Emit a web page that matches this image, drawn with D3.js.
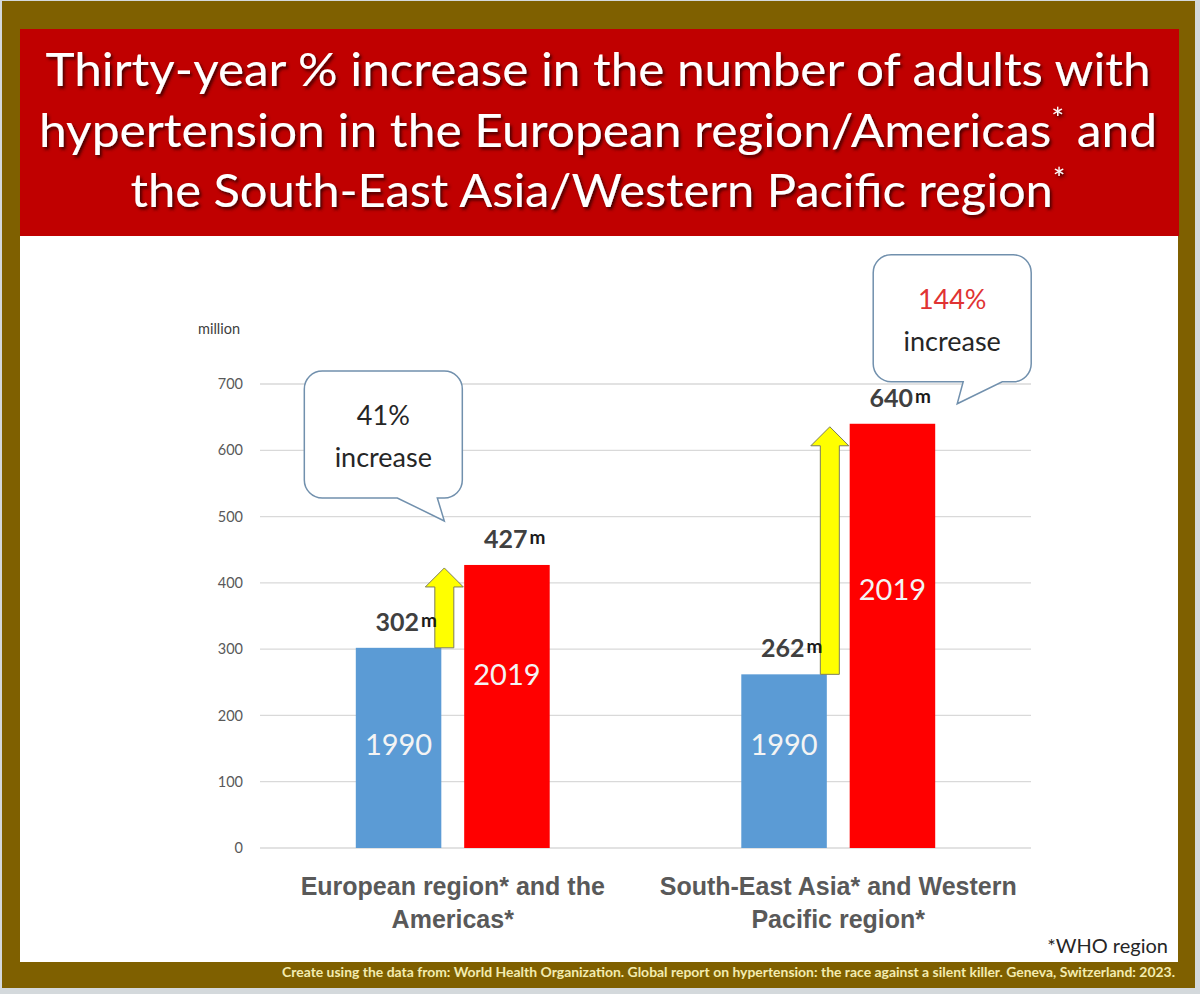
<!DOCTYPE html>
<html>
<head>
<meta charset="utf-8">
<script src="https://cdn.jsdelivr.net/npm/d3@7"></script>
<style>
  body { margin: 0; background: #fff; }
  svg { display: block; }
</style>
</head>
<body>
<svg id="canvas" width="1200" height="994"></svg>
<script>
const width = 1200
const height = 994

// data
const regions = ["European region* and the Americas*", "South-East Asia* and Western Pacific region*"]
const regionLines = [["European region* and the", "Americas*"], ["South-East Asia* and Western", "Pacific region*"]]
const years = ["1990", "2019"]
const values1990 = [302, 262]
const values2019 = [427, 640]
const increaseLabels = ["41%", "144%"]
const yTicks = [0, 100, 200, 300, 400, 500, 600, 700]

const titleLines = [
    ["Thirty-year % increase in the number of adults with", ""],
    ["hypertension in the European region/Americas", "*", " and"],
    ["the South-East Asia/Western Pacific region", "*"]
]
const sourceText = "Create using the data from: World Health Organization. Global report on hypertension: the race against a silent killer. Geneva, Switzerland: 2023."

const svg = d3.select("#canvas")

// shadow for the title
const defs = svg.append("defs")
defs.append("filter").attr("id", "shadow")
    .attr("x", "-5%").attr("y", "-20%").attr("width", "110%").attr("height", "140%")
    .append("feDropShadow")
    .attr("dx", 2).attr("dy", 2.5).attr("stdDeviation", 1.6)
    .attr("flood-color", "#300000").attr("flood-opacity", 0.85)

// frame
svg.append("rect").attr("width", width).attr("height", height).attr("fill", "#d4d9dc")
svg.append("rect").attr("x", 2).attr("y", 1).attr("width", 1193).attr("height", 987).attr("fill", "#7f6000")
svg.append("rect").attr("x", 20).attr("y", 29).attr("width", 1159).attr("height", 207).attr("fill", "#c00000")
svg.append("rect").attr("x", 20).attr("y", 236).attr("width", 1158).attr("height", 726).attr("fill", "#ffffff")

// title
const titleG = svg.append("g").attr("filter", "url(#shadow)")
const titleWidths = [1105, 1118, 935]
titleLines.forEach((parts, i) => {
    const t = titleG.append("text")
        .attr("x", 598)
        .attr("y", 86 + i * 60.5)
        .attr("text-anchor", "middle")
        .attr("font-family", "Lato, 'Open Sans', sans-serif")
        .attr("font-size", 46)
        .attr("fill", "#ffffff")
        .attr("textLength", titleWidths[i])
        .attr("lengthAdjust", "spacingAndGlyphs")
    t.append("tspan").text(parts[0])
    if (parts[1]) {
        t.append("tspan").attr("font-size", 28).attr("dy", -18).text(parts[1])
        if (parts[2]) t.append("tspan").attr("dy", 18).text(parts[2])
    }
})

// scales
const x0 = d3.scaleBand()
    .domain(regions)
    .range([260, 1031])
    .paddingInner(0.497)
    .paddingOuter(0.2485)

const x1 = d3.scaleBand()
    .domain(years)
    .range([0, x0.bandwidth()])
    .paddingInner(0.211)

const y = d3.scaleLinear()
    .domain([0, 700])
    .range([848, 384])

// gridlines + y axis labels
const yAxis = d3.axisLeft(y).tickValues(yTicks).tickSize(0).tickPadding(17)
const yAxisG = svg.append("g").attr("transform", "translate(260,0)").call(yAxis)
yAxisG.select(".domain").remove()
yAxisG.selectAll("text")
    .attr("font-family", "Lato, sans-serif")
    .attr("font-size", 14.5)
    .attr("fill", "#595959")

svg.append("g").selectAll("line")
    .data(yTicks)
    .enter().append("line")
    .attr("x1", 260)
    .attr("x2", 1031)
    .attr("y1", d => y(d))
    .attr("y2", d => y(d))
    .attr("stroke", "#d9d9d9")
    .attr("stroke-width", 1.3)

svg.append("text")
    .attr("x", 198)
    .attr("y", 334)
    .attr("font-family", "Lato, sans-serif")
    .attr("font-size", 14.5)
    .attr("fill", "#404040")
    .text("million")

// bars
const bars = regions.map((r, i) => ({
    region: r,
    v1990: values1990[i],
    v2019: values2019[i],
    bx: x0(r) + x1("1990"),
    rx: x0(r) + x1("2019")
}))
const bw = x1.bandwidth()

const barG = svg.append("g")
barG.selectAll(".b1990")
    .data(bars)
    .enter().append("rect")
    .attr("x", d => d.bx)
    .attr("y", d => y(d.v1990))
    .attr("width", bw)
    .attr("height", d => y(0) - y(d.v1990))
    .attr("fill", "#5b9bd5")

barG.selectAll(".b2019")
    .data(bars)
    .enter().append("rect")
    .attr("x", d => d.rx)
    .attr("y", d => y(d.v2019))
    .attr("width", bw)
    .attr("height", d => y(0) - y(d.v2019))
    .attr("fill", "#ff0000")

// yellow arrows from the 1990 level up to the 2019 level
function arrowPath(cx, top, bottom) {
    const s = 9.5, h = 19, head = 19
    return `M${cx - s},${bottom} V${top + head} H${cx - h} L${cx},${top} L${cx + h},${top + head} H${cx + s} V${bottom} Z`
}
svg.append("g").selectAll("path")
    .data(bars)
    .enter().append("path")
    .attr("d", d => arrowPath(d.bx + bw + 3, y(d.v2019) + 3, y(d.v1990)))
    .attr("fill", "#ffff00")
    .attr("stroke", "#7d7d5a")
    .attr("stroke-width", 1)

// year labels inside the bars
const yearLabelFont = "Lato, 'Open Sans', sans-serif"
barG.selectAll(".l1990")
    .data(bars)
    .enter().append("text")
    .attr("x", d => d.bx + bw / 2)
    .attr("y", y(140))
    .attr("text-anchor", "middle")
    .attr("font-family", yearLabelFont)
    .attr("font-size", 29)
    .attr("fill", "#f4f4f4")
    .text("1990")

barG.selectAll(".l2019")
    .data(bars)
    .enter().append("text")
    .attr("x", d => d.rx + bw / 2)
    .attr("y", d => y(d.v2019 * 0.6 - 10))
    .attr("text-anchor", "middle")
    .attr("font-family", yearLabelFont)
    .attr("font-size", 29)
    .attr("fill", "#f4f4f4")
    .text("2019")

// value labels above bars
function valueLabel(cx, v) {
    const t = svg.append("text")
        .attr("x", cx - 23)
        .attr("y", y(v) - 17)
        .attr("font-family", "Lato, sans-serif")
        .attr("font-weight", "bold")
    t.append("tspan").attr("font-size", 25).attr("fill", "#404040").text(v)
    t.append("tspan").attr("font-size", 19).attr("fill", "#1a1a1a").attr("dx", 2).attr("dy", -4).text("m")
}
bars.forEach(d => {
    valueLabel(d.bx + bw / 2, d.v1990)
    valueLabel(d.rx + bw / 2, d.v2019)
})

// speech bubbles
function calloutPath(x, yTop, w, h, r, baseL, baseR, tipX, tipY) {
    const xr = x + w, yb = yTop + h
    return `M${x + r},${yTop} H${xr - r} A${r},${r} 0 0 1 ${xr},${yTop + r} V${yb - r} A${r},${r} 0 0 1 ${xr - r},${yb}` +
        ` H${baseR} L${tipX},${tipY} L${baseL},${yb} H${x + r} A${r},${r} 0 0 1 ${x},${yb - r} V${yTop + r} A${r},${r} 0 0 1 ${x + r},${yTop} Z`
}
const cw = 158, ch = 127
const callouts = bars.map((d, i) => {
    if (i === 0) {
        const tipX = d.bx + bw + 3, tipY = y(d.v2019) - 44
        const left = tipX + 18 - cw, top = tipY - 23 - ch
        return { left, top, tipX, tipY, baseL: left + 93, baseR: left + 133, color: "#262626" }
    }
    const tipX = d.rx + bw + 22, tipY = y(d.v2019) - 20
    const left = tipX - 84, top = tipY - 22 - ch
    return { left, top, tipX, tipY, baseL: left + 90, baseR: left + 129, color: "#e03333" }
})
const calloutG = svg.append("g")
callouts.forEach((c, i) => {
    calloutG.append("path")
        .attr("d", calloutPath(c.left, c.top, cw, ch, 18, c.baseL, c.baseR, c.tipX, c.tipY))
        .attr("fill", "#ffffff")
        .attr("stroke", "#7190ad")
        .attr("stroke-width", 1.5)
    calloutG.append("text")
        .attr("x", c.left + cw / 2)
        .attr("y", c.top + 54)
        .attr("text-anchor", "middle")
        .attr("font-family", "Lato, sans-serif")
        .attr("font-size", 27)
        .attr("fill", c.color)
        .text(increaseLabels[i])
    calloutG.append("text")
        .attr("x", c.left + cw / 2)
        .attr("y", c.top + 96)
        .attr("text-anchor", "middle")
        .attr("font-family", "Lato, sans-serif")
        .attr("font-size", 27)
        .attr("fill", "#262626")
        .text("increase")
})

// category labels
regions.forEach((r, i) => {
    const t = svg.append("text")
        .attr("text-anchor", "middle")
        .attr("font-family", "'Liberation Sans', Arial, sans-serif")
        .attr("font-weight", "bold")
        .attr("font-size", 25)
        .attr("fill", "#595959")
    regionLines[i].forEach((line, j) => {
        t.append("tspan")
            .attr("x", x0(r) + x0.bandwidth() / 2)
            .attr("y", 895 + j * 33)
            .text(line)
    })
})

svg.append("text")
    .attr("x", 1168)
    .attr("y", 953)
    .attr("text-anchor", "end")
    .attr("font-family", "Lato, sans-serif")
    .attr("font-size", 20)
    .attr("fill", "#262626")
    .text("*WHO region")

svg.append("text")
    .attr("x", 1175)
    .attr("y", 977)
    .attr("text-anchor", "end")
    .attr("font-family", "Lato, sans-serif")
    .attr("font-weight", "bold")
    .attr("font-size", 12.5)
    .attr("fill", "#f3ecb0")
    .attr("textLength", 893)
    .attr("lengthAdjust", "spacingAndGlyphs")
    .text(sourceText)
</script>
</body>
</html>
